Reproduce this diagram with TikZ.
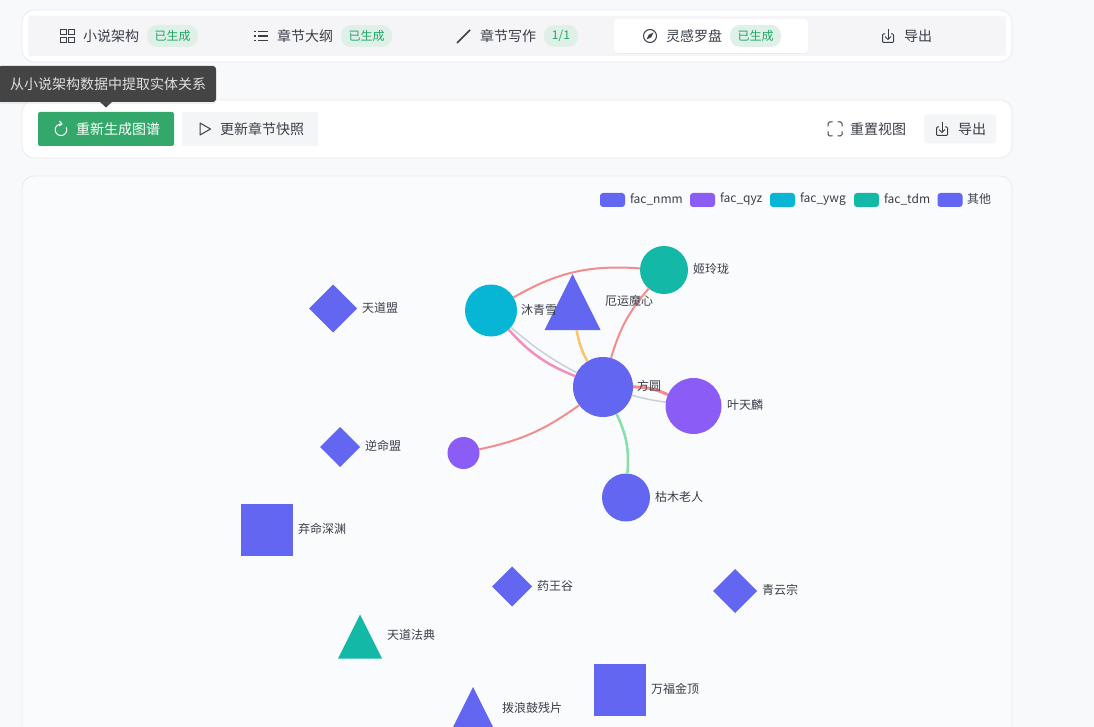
\documentclass[tikz,border=0pt]{standalone}
\usepackage{fontspec}
\usepackage{xcolor}
\usetikzlibrary{shapes,shadows}
\setmainfont{Noto Sans CJK SC}

\definecolor{pagebg}{HTML}{F8F9FB}
\definecolor{cardbg}{HTML}{FAFBFD}
\definecolor{cardline}{HTML}{E8EAEF}
\definecolor{barbg}{HTML}{F5F5F7}
\definecolor{btnbg}{HTML}{F4F5F6}
\definecolor{inkdark}{HTML}{3A3E47}
\definecolor{fgreen}{HTML}{34A86A}
\definecolor{badgebg}{HTML}{DFF0E8}
\definecolor{badgeink}{HTML}{22A565}
\definecolor{tipbg}{HTML}{444444}
\definecolor{fnmm}{HTML}{6366F1}
\definecolor{fqyz}{HTML}{8B5CF6}
\definecolor{fywg}{HTML}{06B6D4}
\definecolor{ftdm}{HTML}{14B8A6}
\definecolor{linkred}{HTML}{F38C8C}
\definecolor{linkpink}{HTML}{F090C0}
\definecolor{linkgray}{HTML}{CBCED6}
\definecolor{linkyellow}{HTML}{F9C46B}
\definecolor{linkgreen}{HTML}{86DFA6}

\tikzset{
  iconexport/.pic={
    \draw [inkdark,line width=1pt,rounded corners=1pt] (-3,-2) -- (-5.5,-2) -- (-5.5,6.5) -- (5.5,6.5) -- (5.5,-2) -- (3,-2);
    \draw [inkdark,line width=1pt] (0,-7) -- (0,3);
    \draw [inkdark,line width=1pt] (-3,0.5) -- (0,3.5) -- (3,0.5);
  },
  iconframe/.pic={
    \draw [inkdark,line width=1pt,rounded corners=1.5pt] (-7,-2.5) -- (-7,-7) -- (-2.5,-7);
    \draw [inkdark,line width=1pt,rounded corners=1.5pt] (2.5,-7) -- (7,-7) -- (7,-2.5);
    \draw [inkdark,line width=1pt,rounded corners=1.5pt] (7,2.5) -- (7,7) -- (2.5,7);
    \draw [inkdark,line width=1pt,rounded corners=1.5pt] (-2.5,7) -- (-7,7) -- (-7,2.5);
  }
}

\begin{document}
\begin{tikzpicture}[x=1pt,y=-1pt]
\tikzstyle{every node}+=[inner sep=0pt,outer sep=0pt]
\tikzstyle{card}=[draw=cardline,fill=white,line width=0.8pt,rounded corners=12pt]
\tikzstyle{badge}=[fill=badgebg,rounded corners=10pt,minimum height=22,text=badgeink,font=\fontsize{12}{14}\selectfont]
\tikzstyle{tabtext}=[anchor=west,text=inkdark,font=\fontsize{14}{16}\selectfont]
\tikzstyle{graphtext}=[anchor=west,text=inkdark,font=\fontsize{12}{14}\selectfont]
\tikzstyle{swatch}=[fill=fnmm,rounded corners=3pt,minimum width=25,minimum height=14]
\tikzstyle{dot}=[circle,fill=fnmm]
\tikzstyle{lozenge}=[diamond,fill=fnmm]
\tikzstyle{block}=[rectangle,fill=fnmm,minimum width=52,minimum height=52]
\tikzstyle{peak}=[isosceles triangle,isosceles triangle apex angle=53.13,shape border rotate=90,fill=fnmm,anchor=apex]
\tikzstyle{link}=[line width=2pt,linkred]
\useasboundingbox (0,0) rectangle (1094,727);
\fill [pagebg] (0,0) rectangle (1094,727);
% tab bar
\node [card,minimum width=990,minimum height=52] (tabcard) at (517,36) {};
\node [fill=barbg,rounded corners=3pt,minimum width=978,minimum height=40] (tabbar) at (517,36) {};
\node [fill=white,rounded corners=3pt,minimum width=194,minimum height=34,drop shadow={opacity=0.08,shadow xshift=0pt,shadow yshift=-1pt}] (tabactive) at (711,36) {};
\draw [inkdark,line width=1pt] (60.5,29.5) rectangle (66,35) (68.5,29.5) rectangle (74,35) (60.5,37.5) rectangle (66,43) (68.5,37.5) rectangle (74,43);
\node [tabtext] (tabarch) at (83,36) {小说架构};
\node [badge,minimum width=51] (badgearch) at (172.5,36) {已生成};
\draw [inkdark,line width=1.1pt] (258,31.5) -- (268,31.5) (258,36) -- (268,36) (258,40.5) -- (268,40.5);
\draw [inkdark,line width=1.1pt] (254,31.5) -- (256,31.5) (254,36) -- (256,36) (254,40.5) -- (256,40.5);
\node [tabtext] (taboutline) at (277,36) {章节大纲};
\node [badge,minimum width=51] (badgeoutline) at (366.5,36) {已生成};
\draw [inkdark,line width=1.5pt] (457,43) -- (470,30);
\node [tabtext] (tabwrite) at (480,36) {章节写作};
\node [badge,minimum width=34] (badgewrite) at (561,36) {1/1};
\draw [inkdark,line width=1pt] (650,36) circle (6.5);
\fill [inkdark] (653.5,32.5) -- (651.2,37.2) -- (646.5,39.5) -- (648.8,34.8) -- cycle;
\node [tabtext] (tabcompass) at (666,36) {灵感罗盘};
\node [badge,minimum width=51] (badgecompass) at (755.5,36) {已生成};
\pic at (888,36) {iconexport};
\node [tabtext] (tabexport) at (904,36) {导出};
% toolbar
\node [card,minimum width=990,minimum height=58] (toolcard) at (517,129) {};
\node [fill=fgreen,rounded corners=2pt,minimum width=136,minimum height=34] (btnregen) at (106,129) {};
\draw [white,line width=1pt] (61,124) arc (-90:-385:5.8);
\draw [white,line width=1pt] (59.5,121) -- (62,124) -- (59,126);
\node [tabtext,text=white] (textregen) at (76,129) {重新生成图谱};
\node [fill=btnbg,rounded corners=2pt,minimum width=136,minimum height=34] (btnsnap) at (250,129) {};
\draw [inkdark,line width=1pt,line join=round] (200,123) -- (210.5,129) -- (200,135) -- cycle;
\node [tabtext] (textsnap) at (220,129) {更新章节快照};
\pic at (835,129) {iconframe};
\node [tabtext] (textreset) at (850,129) {重置视图};
\node [fill=btnbg,rounded corners=3pt,minimum width=72,minimum height=29] (btnexport) at (960,129) {};
\pic at (942,129) {iconexport};
\node [tabtext] (textexport) at (958,129) {导出};
% tooltip
\fill [tipbg] (99,101) -- (106,107.5) -- (113,101);
\node [fill=tipbg,rounded corners=3pt,minimum width=218,minimum height=36,drop shadow={opacity=0.12,shadow xshift=0pt,shadow yshift=-2pt}] (tipbox) at (107,84) {};
\node [tabtext,text=white!88!black] (tiptext) at (10,84) {从小说架构数据中提取实体关系};
% graph panel
\node [card,fill=cardbg,minimum width=990,minimum height=600] (graphcard) at (517,476) {};
\node [swatch] (swnmm) at (612.5,200) {};
\node [graphtext] (lgnmm) at (630,199) {fac\_nmm};
\node [swatch,fill=fqyz] (swqyz) at (702.5,200) {};
\node [graphtext] (lgqyz) at (720,199) {fac\_qyz};
\node [swatch,fill=fywg] (swywg) at (782.5,200) {};
\node [graphtext] (lgywg) at (800,199) {fac\_ywg};
\node [swatch,fill=ftdm] (swtdm) at (866.5,200) {};
\node [graphtext] (lgtdm) at (884,199) {fac\_tdm};
\node [swatch] (swother) at (950,200) {};
\node [graphtext] (lgother) at (967,199) {其他};
% graph
\node [dot,minimum size=60] (fangyuan) at (603,387) {};
\node [dot,fill=fqyz,minimum size=56] (yetian) at (693.5,406) {};
\node [dot,fill=ftdm,minimum size=48] (jiling) at (664,270) {};
\node [dot,fill=fywg,minimum size=52] (muqing) at (491,310.5) {};
\node [dot,fill=fqyz,minimum size=32] (nameless) at (463.5,453) {};
\node [dot,minimum size=48] (kumu) at (626,497.5) {};
\node [peak,minimum height=56,minimum width=56] (eyun) at (572.5,274) {};
\node [lozenge,minimum size=48] (tiandao) at (333,308.5) {};
\node [lozenge,minimum size=40] (niming) at (340,447) {};
\node [lozenge,minimum size=40] (yaowang) at (512,586.5) {};
\node [lozenge,minimum size=44] (qingyun) at (735,591) {};
\node [block] (qiming) at (267,530) {};
\node [block] (wanfu) at (620,690) {};
\node [peak,fill=ftdm,minimum height=44,minimum width=44] (fadian) at (360,614.5) {};
\node [peak,minimum height=56,minimum width=56] (bolang) at (473,687) {};
\draw [link,linkgray,line width=1.5pt] (muqing) to [bend right=6] (fangyuan);
\draw [link,linkpink,line width=2.5pt] (muqing) to [bend right=13] (fangyuan);
\draw [link] (muqing) to [bend left=17] (jiling);
\draw [link] (fangyuan) to [bend left=12] (jiling);
\draw [link,linkyellow,line width=2.5pt] (eyun) to [bend right=9] (fangyuan);
\draw [link,line width=3pt] (fangyuan) to [bend left=12] (yetian);
\draw [link,linkgray,line width=1.5pt] (fangyuan) to [bend right=4] (yetian);
\draw [link] (nameless) to [bend right=12] (fangyuan);
\draw [link,linkgreen,line width=2.5pt] (fangyuan) to [bend left=15] (kumu);
\node [graphtext] (lbfangyuan) at (637,386) {方圆};
\node [graphtext] (lbyetian) at (727,404.5) {叶天麟};
\node [graphtext] (lbjiling) at (693,269) {姬玲珑};
\node [graphtext] (lbmuqing) at (521,310) {沐青雪};
\node [graphtext] (lbkumu) at (655,497) {枯木老人};
\node [graphtext] (lbeyun) at (605,301) {厄运魔心};
\node [graphtext] (lbtiandao) at (362,308) {天道盟};
\node [graphtext] (lbniming) at (365,446) {逆命盟};
\node [graphtext] (lbyaowang) at (537,586) {药王谷};
\node [graphtext] (lbqingyun) at (762,590) {青云宗};
\node [graphtext] (lbqiming) at (298,529) {弃命深渊};
\node [graphtext] (lbwanfu) at (651,689) {万福金顶};
\node [graphtext] (lbfadian) at (387,635) {天道法典};
\node [graphtext] (lbbolang) at (502,708) {拨浪鼓残片};
\end{tikzpicture}
\end{document}
